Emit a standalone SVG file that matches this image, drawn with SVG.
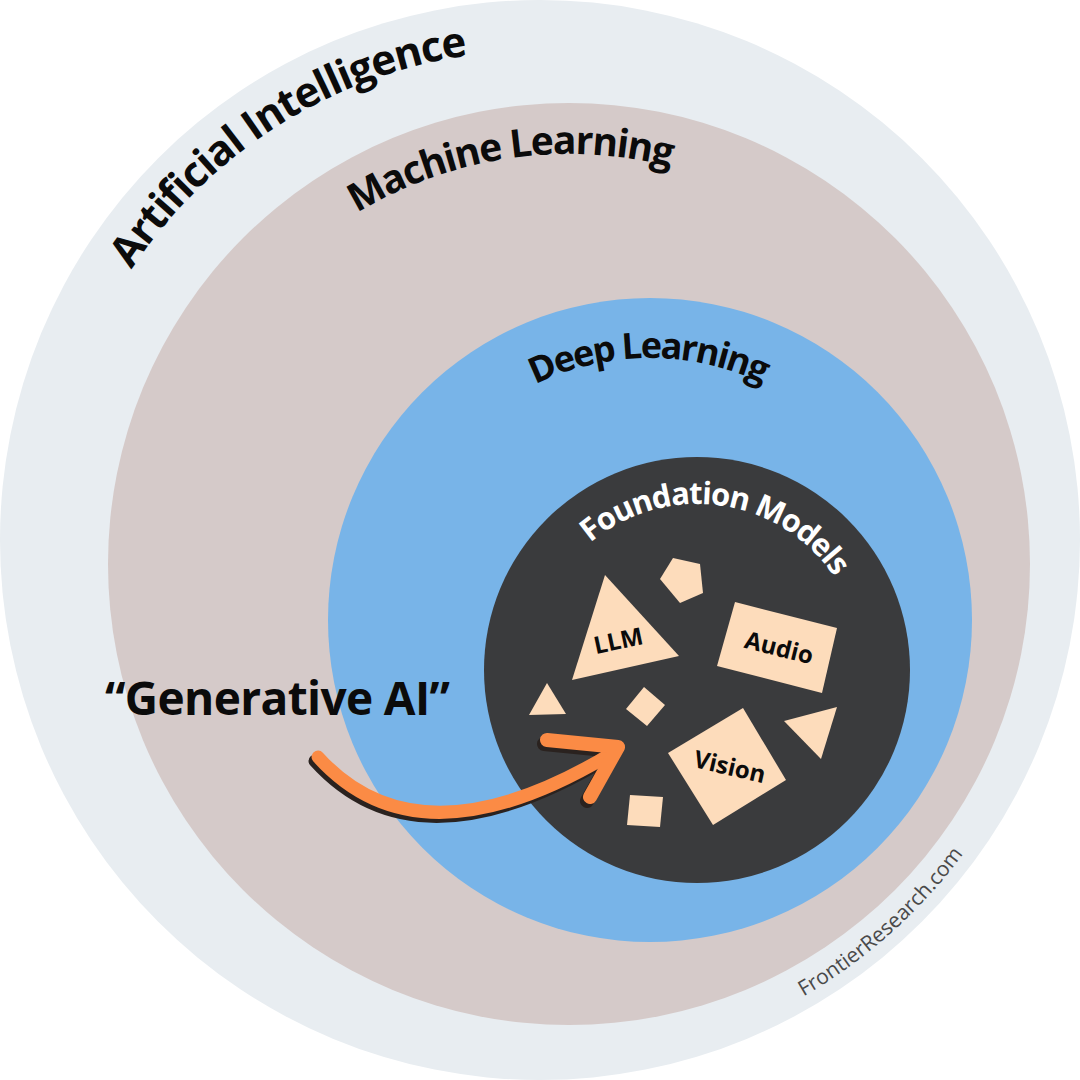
<svg xmlns="http://www.w3.org/2000/svg" width="1080" height="1080" viewBox="0 0 1080 1080">
  <style>
    .lbl { font-family: "Open Sans", "Liberation Sans", sans-serif; font-weight: 700; fill: #0b0b0b; }
    .wlbl { font-family: "Open Sans", "Liberation Sans", sans-serif; font-weight: 700; fill: #ffffff; }
    .shape { fill: #fddcbb; }
    .shp-lbl { font-family: "Open Sans", "Liberation Sans", sans-serif; font-weight: 700; fill: #0b0b0b; font-size: 24px; text-anchor: middle; }
    .wm { font-family: "Open Sans", "Liberation Sans", sans-serif; font-weight: 400; fill: #4a4a4a; font-size: 21px; }
    .arrow { fill: none; stroke-linecap: round; stroke-linejoin: round; }
  </style>
  <defs>
    <path id="arcAI" d="M 131.4 269.6 A 490 490 0 0 1 625.1 57.4"/>
    <path id="arcML" d="M 357 213 A 410 410 0 0 1 742.3 192.4"/>
    <path id="arcDL" d="M 535.1 384.5 A 262 262 0 0 1 818.4 419.3"/>
    <path id="arcFM" d="M 590.3 542.8 A 166 166 0 0 1 862.4 655.5"/>
    <path id="arcWM" d="M 803.5 996.4 A 527 527 0 0 0 1017.6 762.7"/>
  </defs>

  <rect width="1080" height="1080" fill="#ffffff"/>

  <g id="artificial-intelligence">
    <circle cx="540" cy="540" r="540" fill="#e8edf1"/>
    <text class="lbl" font-size="42" letter-spacing="-1.2"><textPath href="#arcAI">Artificial Intelligence</textPath></text>
  </g>

  <g id="machine-learning">
    <circle cx="569" cy="564" r="461" fill="#d5cac9"/>
    <text class="lbl" font-size="39" letter-spacing="-1.5"><textPath href="#arcML">Machine Learning</textPath></text>
  </g>

  <g id="deep-learning">
    <circle cx="650" cy="620" r="322" fill="#78b4e8"/>
    <text class="lbl" font-size="36" letter-spacing="-2"><textPath href="#arcDL">Deep Learning</textPath></text>
  </g>

  <g id="foundation-models">
    <circle cx="697" cy="670" r="213" fill="#3a3b3d"/>
    <text class="wlbl" font-size="31" letter-spacing="-1.2"><textPath href="#arcFM">Foundation Models</textPath></text>
  </g>

  <g id="llm">
    <polygon class="shape" points="605,575 679,656 572,680"/>
    <text class="shp-lbl" transform="translate(620,649) rotate(-12)">LLM</text>
  </g>
  <g id="pentagon">
    <polygon class="shape" points="673,558 700,564 703,593 680,603 660,579"/>
  </g>
  <g id="audio">
    <polygon class="shape" points="735,602 837,628 822,693 717,666"/>
    <text class="shp-lbl" transform="translate(777,656) rotate(14)">Audio</text>
  </g>
  <g id="small-triangle">
    <polygon class="shape" points="547,683 566,714 529,715"/>
  </g>
  <g id="diamond">
    <polygon class="shape" points="644,687 665,705 647,726 626,709"/>
  </g>
  <g id="vision">
    <polygon class="shape" points="668,753 743,708 786,780 713,825"/>
    <text class="shp-lbl" transform="translate(728,775) rotate(13)">Vision</text>
  </g>
  <g id="right-triangle">
    <polygon class="shape" points="784,721 837,707 821,759"/>
  </g>
  <g id="small-square">
    <polygon class="shape" points="630,795 663,797 660,827 627,825"/>
  </g>

  <g id="generative-ai">
    <text class="lbl" x="105" y="715" font-size="46" font-weight="800" textLength="345" lengthAdjust="spacing">“Generative AI”</text>
  </g>

  <g id="connectors">
    <g transform="translate(-3,4)" stroke="#2a221f">
      <path class="arrow" d="M 318 757 Q 420 870 614 752" stroke-width="13"/>
      <path class="arrow" d="M 547 740 L 618 747 L 590 797" stroke-width="14"/>
    </g>
    <g stroke="#fb8b45">
      <path class="arrow" d="M 318 757 Q 420 870 614 752" stroke-width="13"/>
      <path class="arrow" d="M 547 740 L 618 747 L 590 797" stroke-width="14"/>
    </g>
  </g>

  <g id="watermark">
    <text class="wm"><textPath href="#arcWM">FrontierResearch.com</textPath></text>
  </g>
</svg>
